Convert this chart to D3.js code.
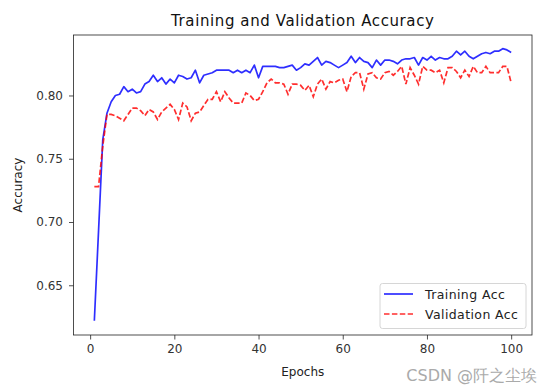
<!DOCTYPE html>
<html><head><meta charset="utf-8">
<script src="https://cdn.jsdelivr.net/npm/d3@7"></script>
<style>body{margin:0;background:#fff}svg{display:block}text{font-family:"DejaVu Sans",sans-serif}</style>
</head><body>
<script>
const trainAcc = [0.622,0.693,0.765,0.786,0.795,0.800,0.801,0.807,0.803,0.805,
0.802,0.803,0.809,0.811,0.816,0.811,0.814,0.809,0.813,0.810,
0.816,0.815,0.813,0.814,0.820,0.810,0.816,0.817,0.818,0.820,
0.820,0.820,0.820,0.818,0.820,0.818,0.820,0.818,0.824,0.814,
0.823,0.823,0.823,0.823,0.822,0.822,0.823,0.824,0.820,0.822,
0.825,0.824,0.827,0.830,0.824,0.827,0.826,0.824,0.822,0.824,
0.826,0.831,0.826,0.830,0.827,0.826,0.822,0.828,0.824,0.828,
0.828,0.827,0.825,0.828,0.829,0.829,0.830,0.824,0.830,0.828,
0.831,0.828,0.830,0.829,0.829,0.831,0.835,0.832,0.835,0.831,
0.829,0.831,0.833,0.834,0.833,0.835,0.835,0.837,0.836,0.834];
const valAcc = [0.728,0.728,0.760,0.785,0.785,0.784,0.782,0.780,0.785,0.790,
0.790,0.788,0.784,0.789,0.787,0.781,0.787,0.790,0.793,0.789,
0.781,0.794,0.791,0.780,0.786,0.787,0.792,0.797,0.797,0.803,
0.795,0.803,0.798,0.794,0.794,0.794,0.802,0.800,0.796,0.797,
0.803,0.810,0.813,0.810,0.810,0.809,0.801,0.809,0.809,0.808,
0.804,0.808,0.799,0.809,0.813,0.805,0.811,0.810,0.812,0.813,
0.803,0.815,0.818,0.818,0.805,0.817,0.818,0.814,0.813,0.818,
0.819,0.816,0.819,0.823,0.809,0.822,0.816,0.809,0.823,0.820,
0.820,0.818,0.820,0.810,0.822,0.822,0.819,0.814,0.820,0.815,
0.823,0.818,0.818,0.823,0.818,0.818,0.818,0.823,0.823,0.810];
const epochs = d3.range(1, 101);
const xTicks = [0,20,40,60,80,100];
const yTicks = [0.65,0.70,0.75,0.80];
const seriesNames = ["Training Acc","Validation Acc"];

const W=554,H=391;
const L=73.5,R=532,T=35,B=335;
const svg=d3.select("body").append("svg").attr("width",W).attr("height",H);
const x=d3.scaleLinear().domain([-3.95,104.95]).range([L,R]);
const y=d3.scaleLinear().domain([0.6107,0.8478]).range([B,T]);

const xa=svg.append("g").attr("transform",`translate(0,${B})`)
  .call(d3.axisBottom(x).tickValues(xTicks).tickFormat(d3.format("d")).tickSize(4.5).tickPadding(5));
const ya=svg.append("g").attr("transform",`translate(${L},0)`)
  .call(d3.axisLeft(y).tickValues(yTicks).tickFormat(d3.format(".2f")).tickSize(4.5).tickPadding(6));
[xa,ya].forEach(a=>{a.select(".domain").remove();a.selectAll("text").attr("font-size",12).attr("fill","#333").attr("font-family","DejaVu Sans");a.selectAll("line").attr("stroke","#222").attr("stroke-width",0.8);});

const line=d3.line().x((d,i)=>x(epochs[i])).y(d=>y(d));
const g=svg.append("g");
g.append("path").datum(trainAcc).attr("d",line).attr("fill","none").attr("stroke","#0000ff").attr("stroke-opacity",0.82).attr("stroke-width",1.7).attr("stroke-linejoin","round");
g.append("path").datum(valAcc).attr("d",line).attr("fill","none").attr("stroke","#ff0000").attr("stroke-opacity",0.82).attr("stroke-width",1.7).attr("stroke-dasharray","5.5,2.4");

svg.append("rect").attr("x",L).attr("y",T).attr("width",R-L).attr("height",B-T).attr("fill","none").attr("stroke","#222").attr("stroke-width",0.8);

svg.append("text").attr("x",(L+R)/2).attr("y",T-9).attr("text-anchor","middle").attr("font-size",15).attr("letter-spacing",0.6).attr("fill","#111").text("Training and Validation Accuracy");
svg.append("text").attr("x",(L+R)/2).attr("y",376).attr("text-anchor","middle").attr("font-size",12).attr("fill","#222").text("Epochs");
svg.append("text").attr("transform",`translate(22,${(T+B)/2}) rotate(-90)`).attr("text-anchor","middle").attr("font-size",12).attr("fill","#222").text("Accuracy");

// legend
const lg=svg.append("g");
lg.append("rect").attr("x",380).attr("y",283.5).attr("width",146).attr("height",45).attr("rx",2.5).attr("fill","#fff").attr("fill-opacity",0.8).attr("stroke","#ccc").attr("stroke-width",0.8);
const colors=["#0000ff","#ff0000"];
seriesNames.forEach((n,i)=>{
  const yy=294+i*20;
  lg.append("line").attr("x1",384).attr("x2",413).attr("y1",yy).attr("y2",yy).attr("stroke",colors[i]).attr("stroke-opacity",0.82).attr("stroke-width",1.7).attr("stroke-dasharray",i?"5.5,2.4":null);
  lg.append("text").attr("x",425).attr("y",yy+4.5).attr("font-size",12.5).attr("letter-spacing",0.4).attr("fill","#222").text(n);
});

svg.append("text").attr("x",537).attr("y",381).attr("text-anchor","end").attr("font-size",16).attr("fill","#aaa").attr("font-family","'Noto Sans CJK SC',sans-serif").text("CSDN @阡之尘埃");
</script>
</body></html>
